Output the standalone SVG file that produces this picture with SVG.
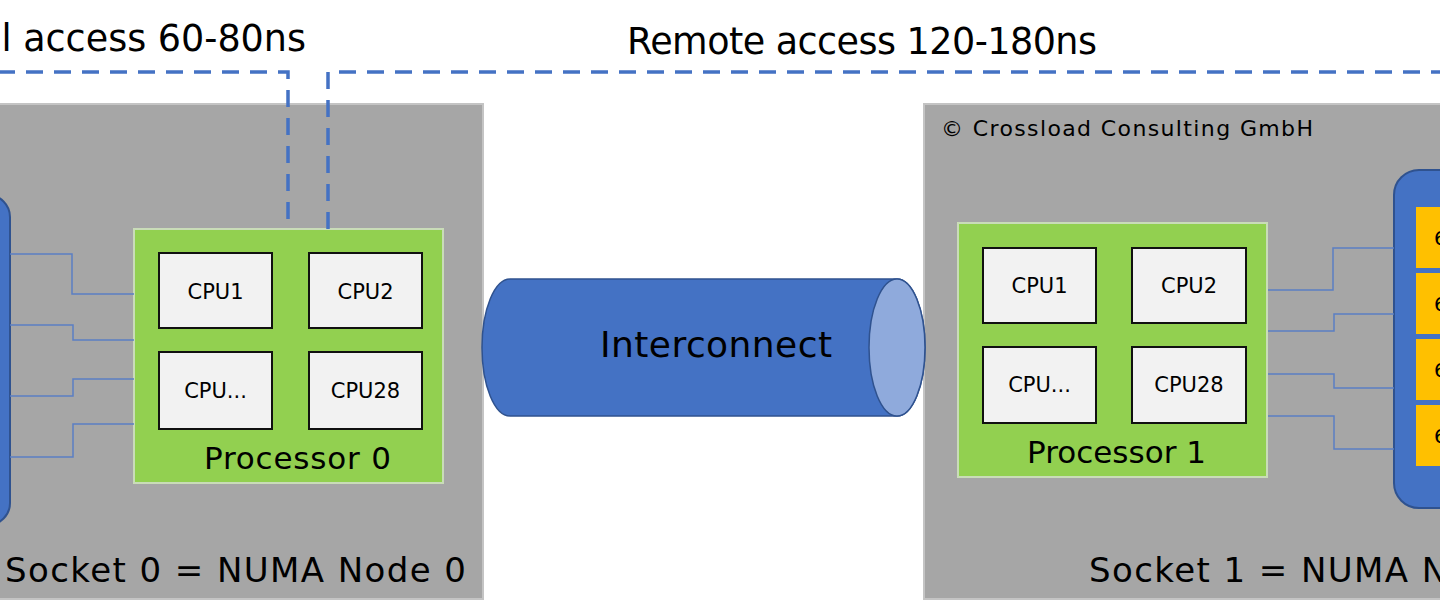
<svg xmlns="http://www.w3.org/2000/svg" width="1440" height="612" viewBox="0 0 1440 612">
<style>
text{font-family:"DejaVu Sans","Noto Sans","Liberation Sans",sans-serif;fill:#000}
.socket{fill:#a6a6a6;stroke:#c4c4c4;stroke-width:2}
.proc{fill:#92d050;stroke:#c9dcb8;stroke-width:2}
.cpu{fill:#f2f2f2;stroke:#111;stroke-width:2}
.mem{fill:#4472c4;stroke:#2f528f;stroke-width:2}
.dimm{fill:#ffc000;stroke:#4472c4;stroke-width:2}
.wire{fill:none;stroke:#5b7fc4;stroke-width:1.5}
.dash{fill:none;stroke:#4472c4;stroke-width:3.5;stroke-dasharray:17 11}
.cputxt{font-size:21px;text-anchor:middle}
.proctxt{font-size:31px}
.socktxt{font-size:34px}
.toptxt{font-size:36.5px}
.dimmtxt{font-size:20px}
</style>
<rect width="1440" height="612" fill="#fff"/>

<g id="socket0">
<rect class="socket" x="-4" y="104" width="487" height="495"/>
<text class="socktxt" x="5" y="582" textLength="461">Socket 0 = NUMA Node 0</text>
</g>

<g id="socket1">
<rect class="socket" x="924" y="104" width="540" height="495"/>
<text x="941" y="136" font-size="22" textLength="372">© Crossload Consulting GmbH</text>
<text class="socktxt" x="1089" y="582" textLength="461">Socket 1 = NUMA Node 1</text>
</g>

<g id="memory0">
<rect class="mem" x="-80" y="195" width="90" height="330" rx="22"/>
</g>

<g id="memory1">
<rect class="mem" x="1394" y="170" width="100" height="338" rx="25"/>
<rect class="dimm" x="1415" y="206" width="60" height="63"/>
<rect class="dimm" x="1415" y="272" width="60" height="63"/>
<rect class="dimm" x="1415" y="338" width="60" height="63"/>
<rect class="dimm" x="1415" y="404" width="60" height="63"/>
<text class="dimmtxt" x="1434" y="245">64 GB</text>
<text class="dimmtxt" x="1434" y="311">64 GB</text>
<text class="dimmtxt" x="1434" y="377">64 GB</text>
<text class="dimmtxt" x="1434" y="443">64 GB</text>
</g>

<g id="processor0">
<rect class="proc" x="134" y="229" width="309" height="254"/>
<rect class="cpu" x="159" y="253" width="113" height="75"/>
<rect class="cpu" x="309" y="253" width="113" height="75"/>
<rect class="cpu" x="159" y="352" width="113" height="77"/>
<rect class="cpu" x="309" y="352" width="113" height="77"/>
<text class="cputxt" x="215.5" y="299">CPU1</text>
<text class="cputxt" x="365.5" y="299">CPU2</text>
<text class="cputxt" x="215.5" y="398">CPU...</text>
<text class="cputxt" x="365.5" y="398">CPU28</text>
<text class="proctxt" x="204" y="469" textLength="187">Processor 0</text>
</g>

<g id="processor1">
<rect class="proc" x="958" y="223" width="309" height="254"/>
<rect class="cpu" x="983" y="248" width="113" height="75"/>
<rect class="cpu" x="1132" y="248" width="114" height="75"/>
<rect class="cpu" x="983" y="347" width="113" height="76"/>
<rect class="cpu" x="1132" y="347" width="114" height="76"/>
<text class="cputxt" x="1039.5" y="293">CPU1</text>
<text class="cputxt" x="1189" y="293">CPU2</text>
<text class="cputxt" x="1039.5" y="392">CPU...</text>
<text class="cputxt" x="1189" y="392">CPU28</text>
<text class="proctxt" x="1027" y="463" textLength="179">Processor 1</text>
</g>

<g id="interconnect">
<path d="M510,279 H897 A28,68.5 0 0 1 897,416 H510 A28,68.5 0 0 1 510,279 Z" fill="#4472c4" stroke="#2f528f" stroke-width="1.5"/>
<ellipse cx="897" cy="347.5" rx="28" ry="68.5" fill="#8faadc" stroke="#2f528f" stroke-width="1.5"/>
<text x="600" y="357" font-size="36" textLength="232">Interconnect</text>
</g>

<g id="labels">
<text class="toptxt" x="306" y="51" text-anchor="end">Local access 60-80ns</text>
<text class="toptxt" x="627" y="54" textLength="470">Remote access 120-180ns</text>
</g>

<g id="connectors">
<path class="wire" d="M10,254 H72 V294 H134"/>
<path class="wire" d="M10,325 H73 V340 H134"/>
<path class="wire" d="M10,396 H73 V379 H134"/>
<path class="wire" d="M10,457 H73 V424 H134"/>
<path class="wire" d="M1268,290 H1333 V248 H1394"/>
<path class="wire" d="M1268,331 H1334 V314 H1394"/>
<path class="wire" d="M1268,374 H1334 V388 H1394"/>
<path class="wire" d="M1268,416 H1334 V449 H1394"/>
<path class="dash" d="M-2,72 H288 V229"/>
<path class="dash" d="M328,229 V72 H1450"/>
</g>
</svg>
